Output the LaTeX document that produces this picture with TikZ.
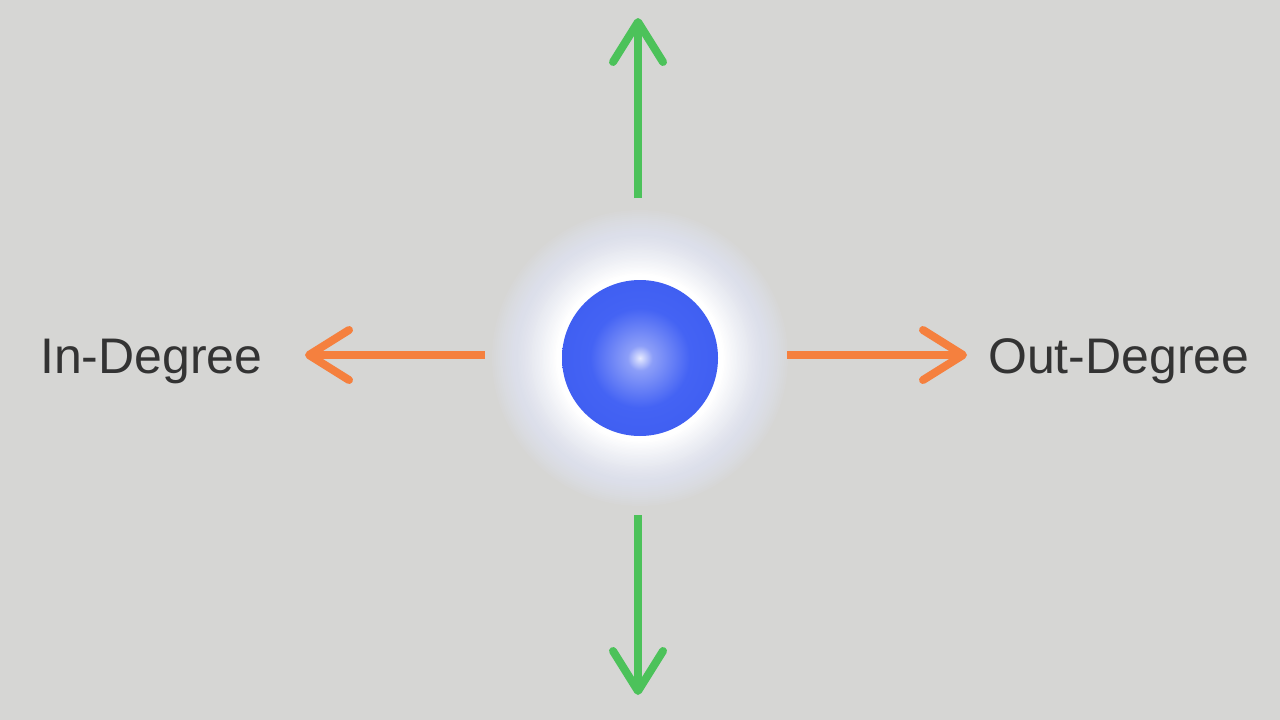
\documentclass[tikz,border=0pt]{standalone}
\usepackage{fontspec}
\setmainfont{Liberation Sans}
\usetikzlibrary{arrows.meta}
\definecolor{bg}{HTML}{D6D6D4}
\definecolor{glowL}{HTML}{DCDFEA}
\definecolor{sphereA}{HTML}{4463F4}
\definecolor{sphereB}{HTML}{3454EC}
\definecolor{sphereHi}{HTML}{E6EAFF}
\definecolor{sphereMid}{HTML}{8C9EF8}
\definecolor{greenA}{HTML}{4CC25A}
\definecolor{orangeA}{HTML}{F5803E}
\definecolor{txt}{HTML}{333333}
\pgfdeclareradialshading{sphereshade}{\pgfpoint{0bp}{0bp}}{color(0bp)=(sphereHi); color(4bp)=(sphereMid); color(16bp)=(sphereA); color(50bp)=(sphereB)}
\tikzset{
  greenarrow/.style={draw=greenA, line width=8pt, -{Straight Barb[length=40pt, width=50pt, round]}},
  orangearrow/.style={draw=orangeA, line width=8pt, -{Straight Barb[length=40pt, width=50pt, round]}},
  label/.style={font=\fontsize{50pt}{60pt}\selectfont, text=txt, inner sep=0pt}
}
\begin{document}
\begin{tikzpicture}[x=1pt, y=-1pt]
\fill[bg] (0,0) rectangle (1280,720);
\useasboundingbox (0,0) rectangle (1280,720);
% glow: outer band bg -> lavender
\foreach \i in {0,...,11}{
  \pgfmathsetmacro\r{148-2*\i}
  \pgfmathtruncatemacro\p{100*((\i+1)/12)^0.8}
  \colorlet{gtmp}{glowL!\p!bg}
  \fill[gtmp] (640,358) circle (\r);
}
% glow: inner band lavender -> white
\foreach \i in {0,...,29}{
  \pgfmathsetmacro\r{124-1.4*\i}
  \pgfmathtruncatemacro\p{100*((\i+1)/30)^1.2}
  \colorlet{gtmp}{white!\p!glowL}
  \fill[gtmp] (640,358) circle (\r);
}
% sphere
\node[circle, minimum size=156pt, inner sep=0pt, shading=sphereshade] (c) at (640,358) {};
% coordinates
\coordinate (upS) at (638,198);
\coordinate (upE) at (638,18);
\coordinate (dnS) at (638,515);
\coordinate (dnE) at (638,695);
\coordinate (lS) at (485,355);
\coordinate (lE) at (305,355);
\coordinate (rS) at (787,355);
\coordinate (rE) at (967,355);
\draw[greenarrow] (upS) -- (upE);
\draw[greenarrow] (dnS) -- (dnE);
\draw[orangearrow] (lS) -- (lE);
\draw[orangearrow] (rS) -- (rE);
\node[label, anchor=base west] (in) at (40,373) {In-Degree};
\node[label, anchor=base west] (out) at (988,373) {Out-Degree};
\end{tikzpicture}
\end{document}
